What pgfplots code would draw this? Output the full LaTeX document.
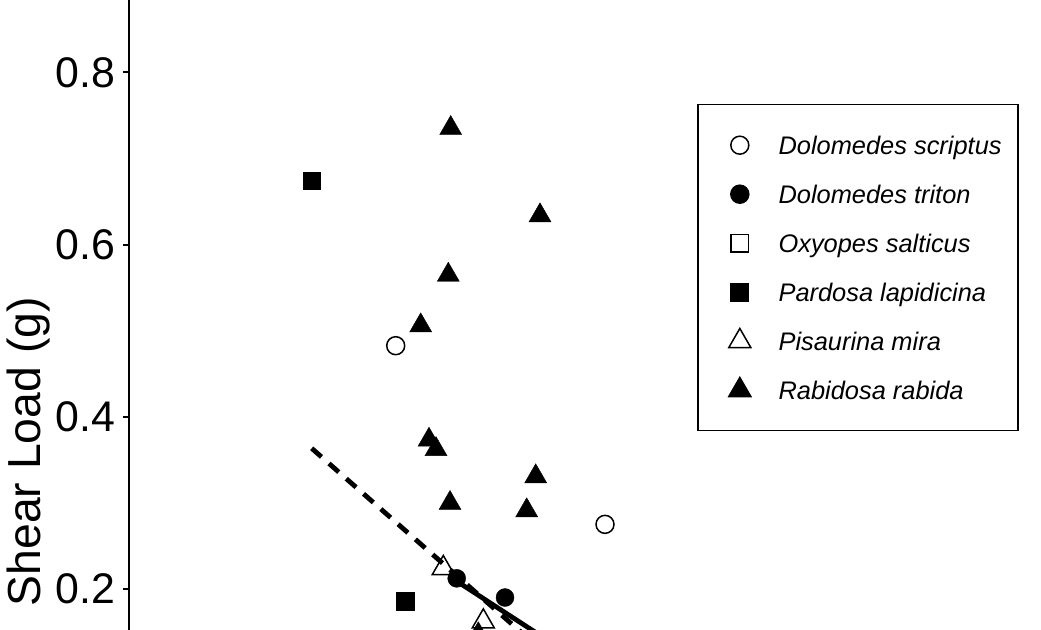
\documentclass[border=0pt]{standalone}
\usepackage{fontspec}
\setmainfont{Liberation Sans}
\usepackage{pgfplots}
\pgfplotsset{compat=1.18}

\begin{document}
\begin{tikzpicture}
\useasboundingbox (0,0) rectangle (1041bp,630bp);
\begin{axis}[
	at={(129.3bp,0bp)}, anchor=south west,
	scale only axis, width=911.7bp, height=630bp,
	xmin=129.3, xmax=1041, ymin=0.1523, ymax=0.884,
	axis x line=none, axis y line=left,
	axis line style={-, line width=2bp, black},
	ytick={0.2,0.4,0.6,0.8},
	tick align=outside, major tick length=6bp,
	tick style={line width=2bp, black},
	yticklabel style={font=\fontsize{43}{50}\selectfont, inner xsep=8bp,
		/pgf/number format/.cd, fixed, fixed zerofill, precision=1, assume math mode=true},
	ylabel={Shear Load (g)},
	ylabel style={at={(rel axis cs:0,0.283)}, anchor=center, yshift=101bp,
		font=\fontsize{46.5}{54}\selectfont},
	clip=false,
	legend style={at={(rel axis cs:0.6227,0.835)}, anchor=north west,
		draw=black, line width=1.5bp, inner xsep=16.3bp, inner ysep=16bp,
		row sep=0pt, column sep=27bp,
		font=\fontsize{25.5}{30}\selectfont\itshape,
		cells={anchor=west},
		nodes={inner sep=0pt, text height=33.4bp, text depth=15.6bp}},
	legend image code/.code={\path (-25bp,-12bp) (11bp,12bp); \draw[#1] plot coordinates {(0bp,0bp)};},
]

% regression lines
\addplot[forget plot, black, line width=4.8bp, dash pattern=on 13bp off 10bp] coordinates {
	(311.7, 0.3633) (540, 0.1305)
};
\addplot[forget plot, black, line width=4.8bp] coordinates {
	(455, 0.2103) (545, 0.1424)
};

% Dolomedes scriptus
\addplot[only marks, black, mark=o, mark size=9bp, mark options={line width=1.5bp, fill=white}] coordinates {
	(395.7, 0.4825) (605, 0.2750)
};
\addlegendentry{Dolomedes scriptus}
% Dolomedes triton
\addplot[only marks, black, mark=*, mark size=9bp] coordinates {
	(456.7, 0.2123) (505, 0.1900)
};
\addlegendentry{Dolomedes triton}
% Oxyopes salticus (no points in view)
\addlegendimage{only marks, black, mark=square, mark size=8.7bp, mark options={line width=1.5bp, fill=white}}
\addlegendentry{Oxyopes salticus}
% Pardosa lapidicina
\addplot[only marks, black, mark=square*, mark size=8.7bp] coordinates {
	(311.7, 0.6741) (405, 0.1859)
};
\addlegendentry{Pardosa lapidicina}
% Pisaurina mira
\addplot[only marks, black, mark=triangle, mark size=12.7bp, mark options={line width=1.5bp, fill=white}] coordinates {
	(443.3, 0.2241) (483.3, 0.1621)
};
\addlegendentry{Pisaurina mira}
% Rabidosa rabida
\addplot[only marks, black, mark=triangle*, mark size=12.7bp] coordinates {
	(450.7, 0.7351) (540.0, 0.6337) (448.3, 0.5647) (420.7, 0.5059)
	(429.0, 0.3731) (436.0, 0.3622) (535.7, 0.3306) (450.0, 0.2996)
	(526.7, 0.2911) (478.3, 0.1472)
};
\addlegendentry{Rabidosa rabida}

\end{axis}
\end{tikzpicture}
\end{document}
